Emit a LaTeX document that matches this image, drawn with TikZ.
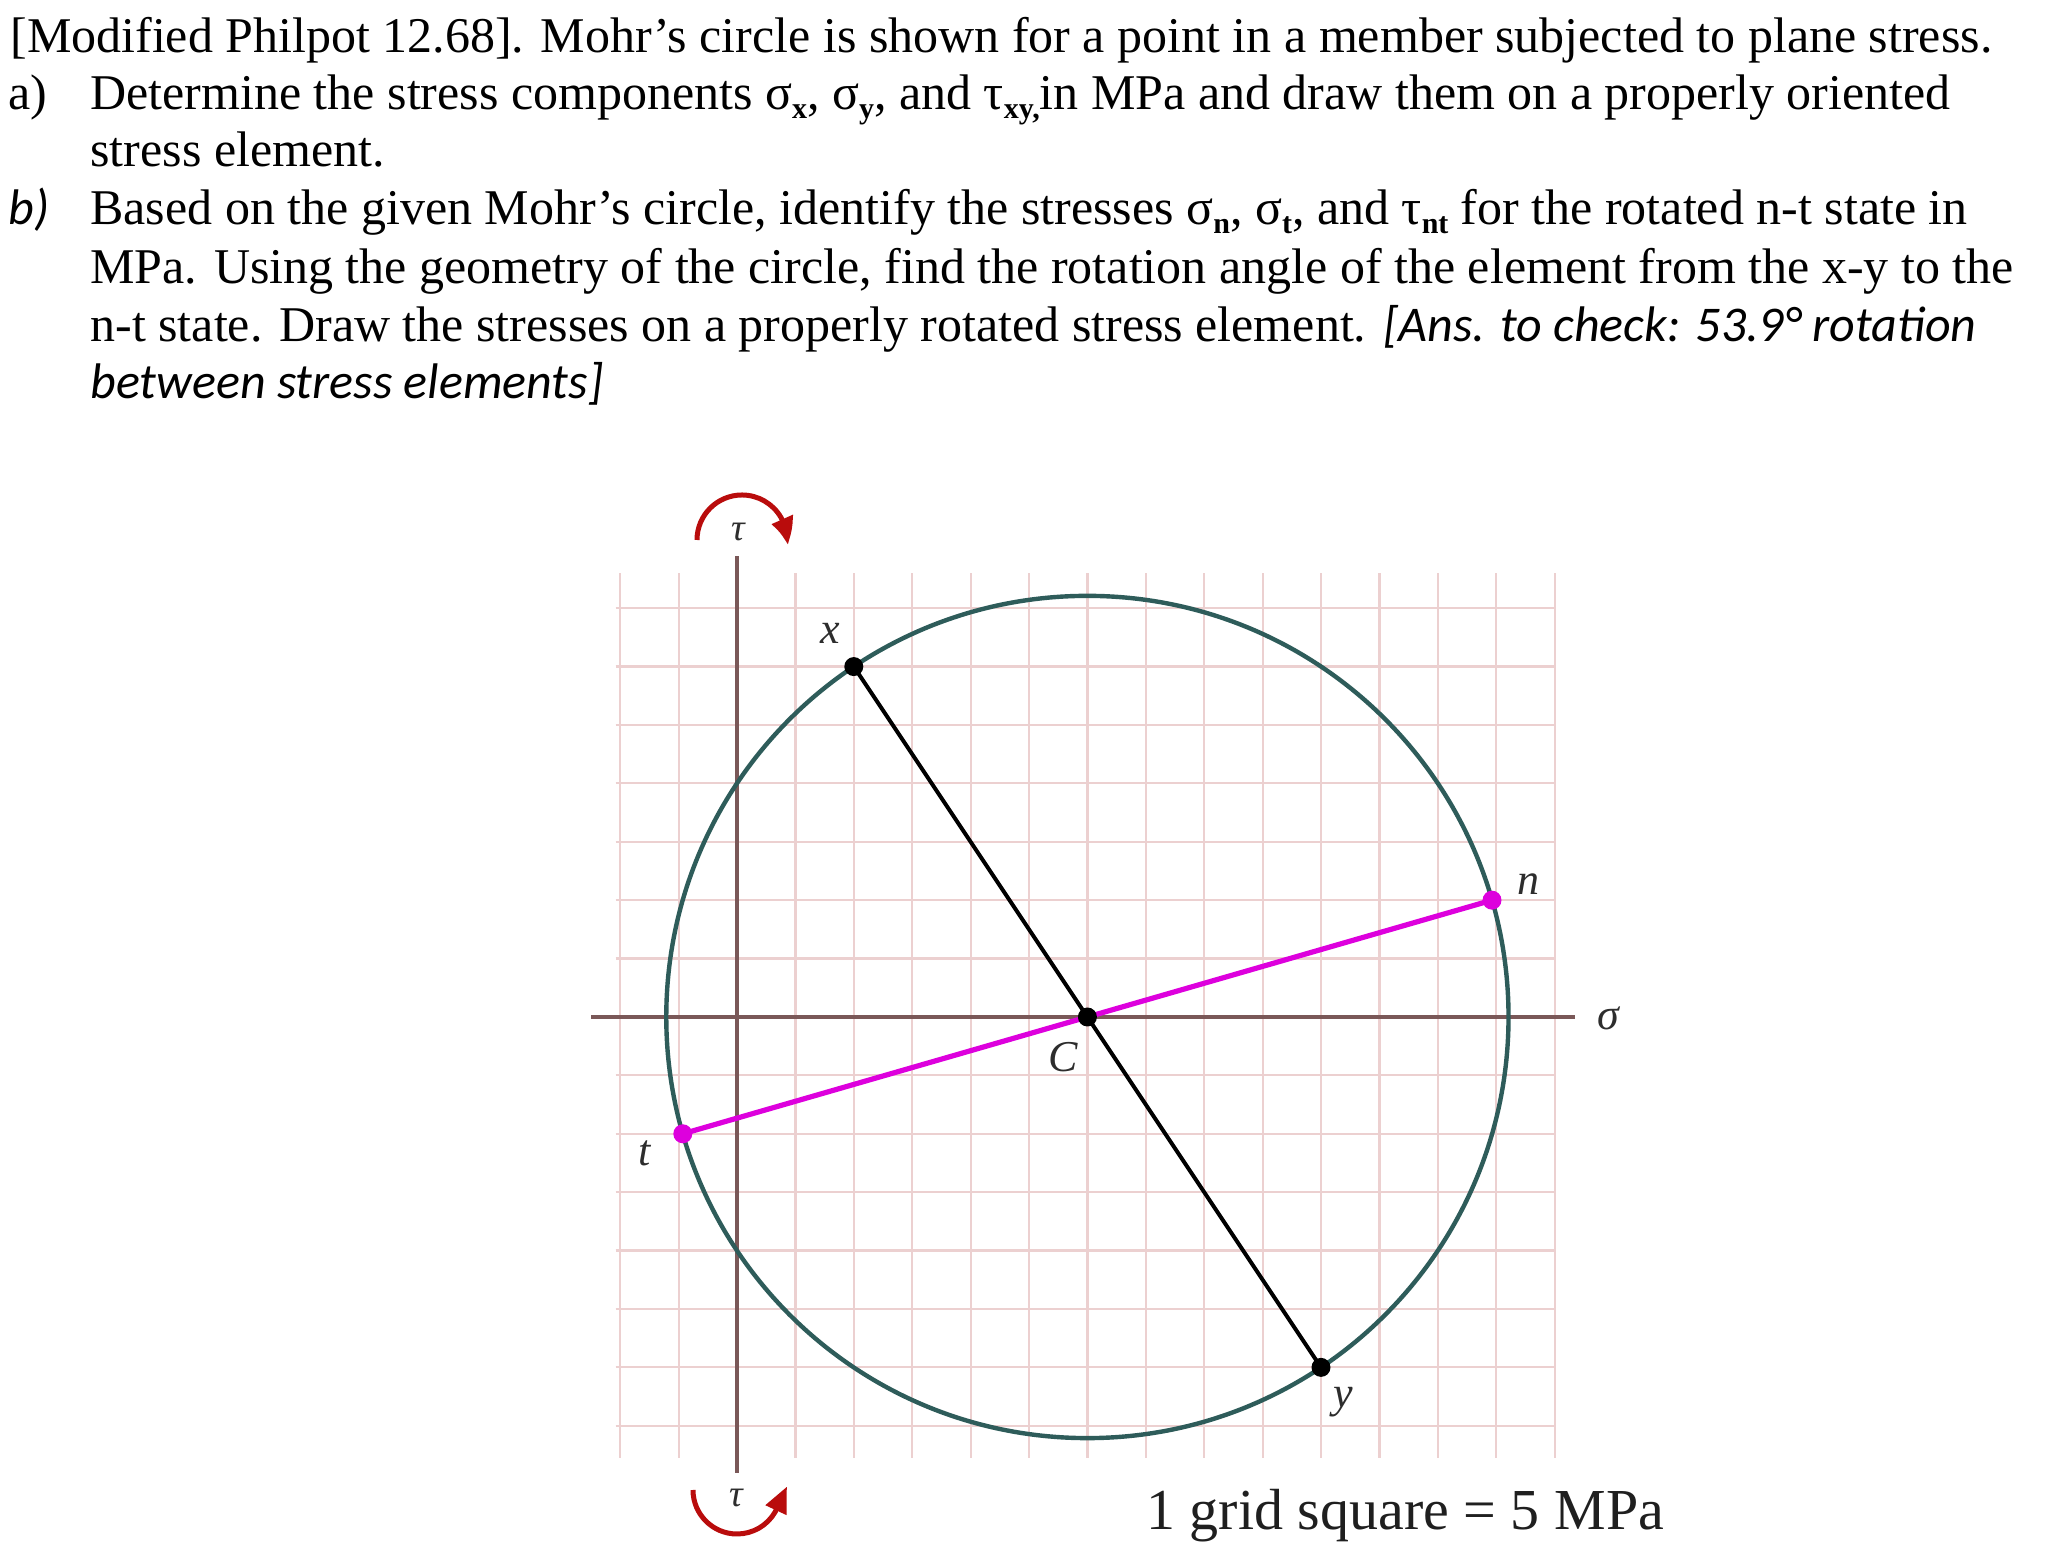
\documentclass[tikz,border=0pt]{standalone}
\usepackage{fontspec}
\setmainfont{Liberation Serif}
\newfontfamily\carl{Carlito}
\usetikzlibrary{arrows.meta,bending}
\definecolor{gridpink}{RGB}{236,208,208}
\definecolor{axisbrown}{RGB}{122,88,88}
\definecolor{circteal}{RGB}{46,92,90}
\definecolor{magline}{RGB}{221,0,221}
\definecolor{arrowred}{RGB}{185,12,12}
\definecolor{labgray}{RGB}{45,45,45}
\newcommand\sbs[1]{\raisebox{-0.35ex}{\fontsize{15}{15}\selectfont\bfseries #1}}
\begin{document}
\begin{tikzpicture}[x=0.5pt,y=0.5pt,
  bodytext/.style={anchor=base west, inner sep=0pt, font=\fontsize{25}{28}\selectfont},
  lab/.style={inner sep=0pt, text=labgray, font=\fontsize{22}{22}\selectfont\itshape},
  taulab/.style={inner sep=0pt, text=labgray, font=\fontsize{19}{19}\selectfont\itshape},
  gridline/.style={draw=gridpink, line width=1.1pt},
  axisline/.style={draw=axisbrown, line width=2.3pt},
  bdot/.style={circle, fill=black, inner sep=0pt, minimum size=9.5pt},
  mdot/.style={circle, fill=magline, inner sep=0pt, minimum size=9.5pt},
  rarrow/.style={draw=arrowred, line width=2.5pt, -{Triangle[bend,length=13pt,width=11pt]}},
  rarrowstraight/.style={draw=arrowred, line width=2.5pt, -{Triangle[length=13pt,width=11pt]}}
]
\useasboundingbox (0,0) rectangle (2046,1562);
\fill[white] (0,0) rectangle (2046,1562);

% ---------- problem text ----------
\node[bodytext] (l1) at (10,1509) {[Modified Philpot 12.68]. Mohr’s circle is shown for a point in a member subjected to plane stress.};
\node[bodytext] (a) at (8,1452) {a)};
\node[bodytext] (l2) at (90,1452) {Determine the stress components σ\sbs{x}, σ\sbs{y}, and τ\sbs{xy,}in MPa and draw them on a properly oriented};
\node[bodytext] (l3) at (90,1395) {stress element.};
\node[bodytext, font=\fontsize{25}{28}\selectfont\carl\itshape] (b) at (8,1337) {b)};
\node[bodytext] (l4) at (90,1337) {Based on the given Mohr’s circle, identify the stresses σ\sbs{n}, σ\sbs{t}, and τ\sbs{nt} for the rotated n-t state in};
\node[bodytext] (l5) at (90,1278) {MPa. Using the geometry of the circle, find the rotation angle of the element from the x-y to the};
\node[bodytext] (l6) at (90,1220) {n-t state. Draw the stresses on a properly rotated stress element. {\carl\itshape [Ans. to check: 53.9° rotation}};
\node[bodytext, font=\fontsize{25}{28}\selectfont\carl\itshape] (l7) at (90,1163) {between stress elements]};

% ---------- Mohr's circle ----------
\begin{scope}[shift={(737,545)}, x=29.2pt, y=29.2pt]
  \foreach \i in {-2,...,14} \draw[gridline] (\i,-7.55) -- (\i,7.6);
  \foreach \j in {-7,...,7} \draw[gridline] (-2.08,\j) -- (14.02,\j);
  \draw[axisline] (-2.5,0) -- (14.35,0);
  \draw[axisline, line width=2pt] (0,-7.8) -- (0,7.9);
  \draw[draw=circteal, line width=2.2pt] (6,0) circle[radius=7.2111];
  \coordinate (C) at (6,0);
  \coordinate (X) at (2,6);
  \coordinate (Y) at (10,-6);
  \coordinate (N) at (12.928,2);
  \coordinate (T) at (-0.928,-2);
  \draw[magline, line width=2.6pt] (T) -- (N);
  \draw[black, line width=2pt] (X) -- (Y);
  \node[mdot] (Nd) at (N) {};
  \node[mdot] (Td) at (T) {};
  \node[bdot] (Xd) at (X) {};
  \node[bdot] (Yd) at (Y) {};
  \node[bdot] (Cd) at (C) {};
\end{scope}

% ---------- labels ----------
\node[lab] (xl) at (830,929) {x};
\node[lab] (nl) at (1528,678) {n};
\node[lab] (sl) at (1608,544) {σ};
\node[lab] (tl) at (645,409) {t};
\node[lab] (yl) at (1343,160) {y};
\node[lab] (cl) at (1063,505) {C};
\node[taulab] (tautop) at (738,1030) {τ};
\node[taulab] (taubot) at (736,64) {τ};

% ---------- rotation arrows ----------
\coordinate (ta) at (697,1022);
\draw[rarrow] (ta) arc[start angle=180, end angle=-6, radius=45];
\coordinate (ba) at (693,72);
\draw[rarrowstraight] (ba) arc[start angle=180, end angle=330, radius=44] -- ++(65:28);

% ---------- scale note ----------
\node[anchor=base west, inner sep=0pt, text=black!88, font=\fontsize{29}{32}\selectfont] (scale) at (1146,32) {1 grid square = 5 MPa};
\end{tikzpicture}
\end{document}
